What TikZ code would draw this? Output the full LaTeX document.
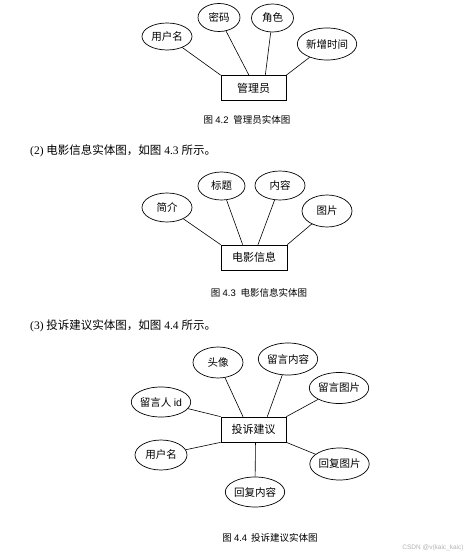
\documentclass[tikz,border=0pt]{standalone}
\usepackage{fontspec}
\setmainfont{Liberation Serif}
\newfontfamily\cjk{Noto Sans CJK SC}
\newfontfamily\lsans{Liberation Sans}
\usetikzlibrary{shapes.geometric,calc}
\tikzset{
  attr/.style={draw,ellipse,line width=0.7pt,inner sep=0pt,font=\cjk\fontsize{10.5}{12}\selectfont},
  ent/.style={draw,rectangle,line width=0.7pt,inner sep=0pt,minimum width=65pt,minimum height=25pt,font=\cjk\fontsize{11}{12}\selectfont},
  link/.style={line width=0.6pt},
  figcap/.style={font=\cjk\fontsize{9.5}{11}\selectfont,inner sep=0pt},
  para/.style={font=\fontsize{11.5}{13}\selectfont,inner sep=0pt,anchor=west}
}
\begin{document}
\begin{tikzpicture}[x=1pt,y=-1pt]
\useasboundingbox (0,0) rectangle (474,559);
% ---------- figure 4.2 ----------
\node[ent] (m) at (253.5,88) {管理员};
\node[attr,minimum width=50pt,minimum height=27pt] (m1) at (167,36.5) {用户名};
\node[attr,minimum width=42pt,minimum height=28pt] (m2) at (219,17.5) {密码};
\node[attr,minimum width=42pt,minimum height=28pt] (m3) at (272.5,18) {角色};
\node[attr,minimum width=50pt,minimum height=32pt] (m4) at (327,44) {新增时间};
\draw[link] (m1) -- (m.north west);
\draw[link] (m2) -- ($(m.north west)!0.43!(m.north east)$);
\draw[link] (m3) -- ($(m.north west)!0.68!(m.north east)$);
\draw[link] (m4) -- (m.north east);
\node[figcap] (c1) at (247,120) {图 {\lsans 4.2}\hspace{0.5em}管理员实体图};
\node[para] (p2) at (30,151) {(2) {\cjk 电影信息实体图，如图} 4.3 {\cjk 所示。}};
% ---------- figure 4.3 ----------
\node[ent,minimum width=66pt] (f) at (254,257.5) {电影信息};
\node[attr,minimum width=50pt,minimum height=29pt] (f1) at (167,207.5) {简介};
\node[attr,minimum width=47pt,minimum height=28pt] (f2) at (221.5,186) {标题};
\node[attr,minimum width=50pt,minimum height=29pt] (f3) at (280,185.5) {内容};
\node[attr,minimum width=50pt,minimum height=32pt] (f4) at (327,211) {图片};
\draw[link] (f1) -- (f.north west);
\draw[link] (f2) -- ($(f.north west)!0.33!(f.north east)$);
\draw[link] (f3) -- ($(f.north west)!0.56!(f.north east)$);
\draw[link] (f4) -- (f.north east);
\node[figcap] (c2) at (259,293) {图 {\lsans 4.3}\hspace{0.5em}电影信息实体图};
\node[para] (p3) at (30,326) {(3) {\cjk 投诉建议实体图，如图} 4.4 {\cjk 所示。}};
% ---------- figure 4.4 ----------
\node[ent] (t) at (253.5,429.5) {投诉建议};
\node[attr,minimum width=50pt,minimum height=31pt] (t1) at (218,362.5) {头像};
\node[attr,minimum width=50pt,minimum height=32pt] (t2) at (288,359) {留言内容};
\node[attr,minimum width=52pt,minimum height=31pt] (t3) at (339,388) {留言图片};
\node[attr,minimum width=52pt,minimum height=30pt] (t4) at (161,402) {留言人 {\lsans id}};
\node[attr,minimum width=52pt,minimum height=30pt] (t5) at (161,455) {用户名};
\node[attr,minimum width=52pt,minimum height=32pt] (t6) at (339.5,464) {回复图片};
\node[attr,minimum width=50pt,minimum height=30pt] (t7) at (255,492) {回复内容};
\draw[link] (t1) -- ($(t.north west)!0.34!(t.north east)$);
\draw[link] (t2) -- ($(t.north west)!0.71!(t.north east)$);
\draw[link] (t3) -- (t.north east);
\draw[link] (t4) -- (t.north west);
\draw[link] (t5) -- (t.south west);
\draw[link] (t6) -- (t.south east);
\draw[link] (t7) -- ($(t.south west)!0.53!(t.south east)$);
\node[figcap] (c3) at (270,538) {图 {\lsans 4.4}\hspace{0.4em}投诉建议实体图};
\node[font=\lsans\fontsize{6.5}{8}\selectfont,text=black!30,inner sep=0pt] (wm) at (433,548) {CSDN @v(kaic\_kaic)};
\end{tikzpicture}
\end{document}
